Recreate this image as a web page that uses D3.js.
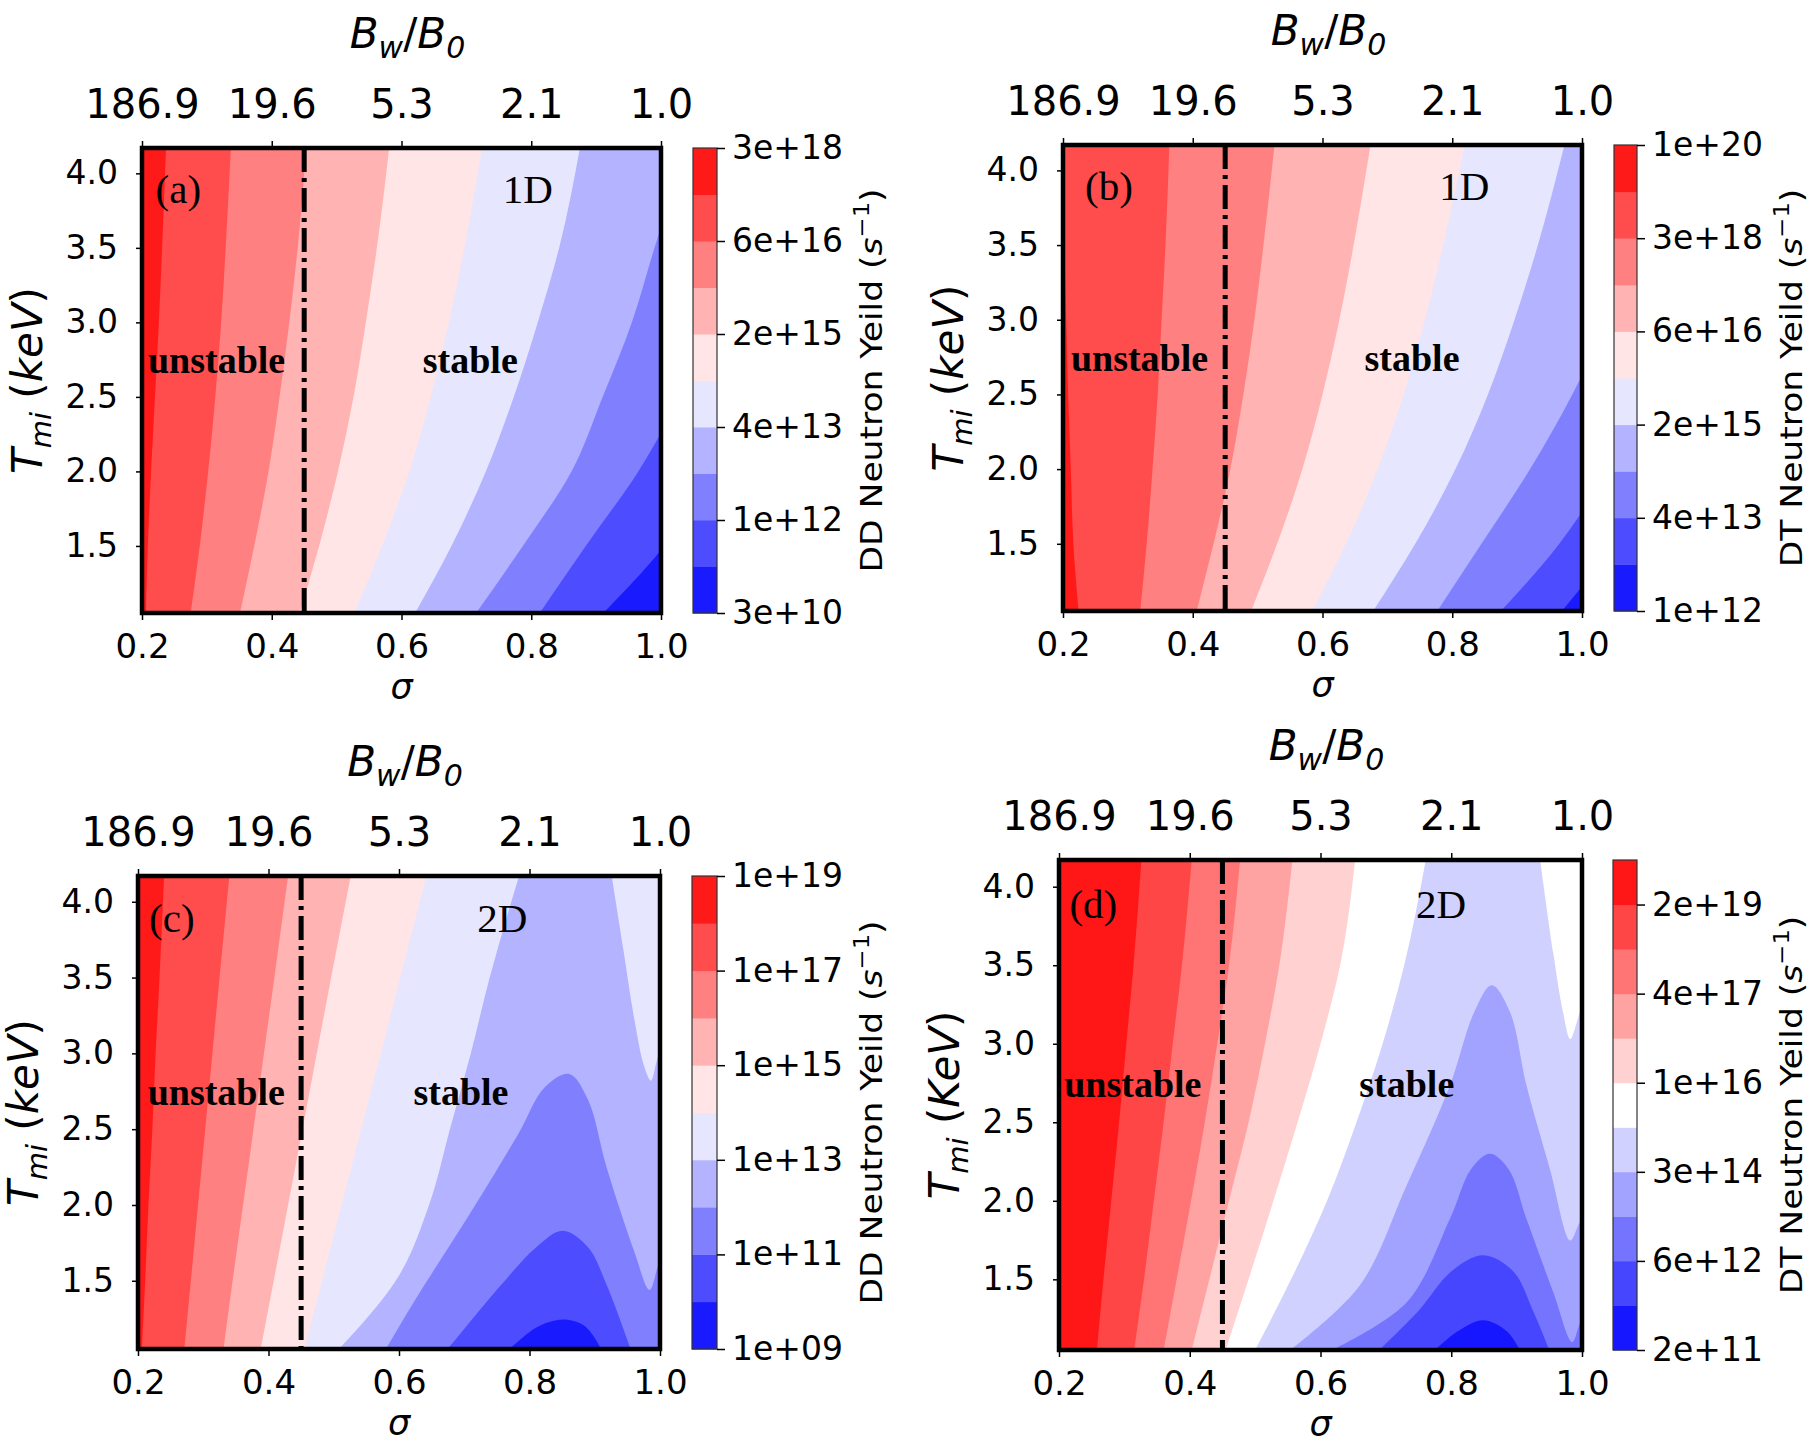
<!DOCTYPE html>
<html>
<head>
<meta charset="utf-8">
<script src="https://cdn.jsdelivr.net/npm/d3@7"></script>
<style>
  body { margin: 0; background: #fff; }
  svg text { font-family: "DejaVu Sans"; fill: #000; }
  svg text.serif { font-family: "Liberation Serif", "Times New Roman", serif; }
</style>
</head>
<body>
<svg id="fig" width="1820" height="1445"></svg>
<script>
// axes shared by all four panels
const sigmaDomain = [0.2, 1.0];
const tDomain = [1.05, 4.17];
const sigmaTicks = [0.2, 0.4, 0.6, 0.8, 1.0];
const ratioLabels = ["186.9", "19.6", "5.3", "2.1", "1.0"];
const tTicks = [1.5, 2.0, 2.5, 3.0, 3.5, 4.0];
const sigmaCritical = 0.45;

// contour boundaries: sigma of each level line at these T rows
const tRows = [1.05, 1.5, 2.0, 2.5, 3.0, 3.5, 4.17];

// (a) DD 1D, level lines 1..9
const aEdges = [
  [0.911, 1.005, 1.08, 1.14, 1.2, 1.25, 1.3],
  [0.813, 0.884, 0.965, 1.03, 1.09, 1.14, 1.2],
  [0.715, 0.787, 0.862, 0.91, 0.955, 0.99, 1.04],
  [0.621, 0.677, 0.73, 0.773, 0.81, 0.843, 0.875],
  [0.527, 0.57, 0.612, 0.645, 0.673, 0.697, 0.724],
  [0.443, 0.473, 0.502, 0.526, 0.545, 0.562, 0.581],
  [0.351, 0.373, 0.395, 0.412, 0.427, 0.44, 0.453],
  [0.275, 0.289, 0.302, 0.313, 0.322, 0.329, 0.337],
  [0.206, 0.209, 0.214, 0.22, 0.226, 0.231, 0.237]
];

// (b) DT 1D, level lines 1..9
const bEdges = [
  [0.969, 1.05, 1.12, 1.18, 1.23, 1.28, 1.33],
  [0.875, 0.965, 1.04, 1.09, 1.14, 1.19, 1.25],
  [0.777, 0.845, 0.92, 0.985, 1.04, 1.09, 1.15],
  [0.678, 0.743, 0.805, 0.855, 0.896, 0.932, 0.973],
  [0.584, 0.636, 0.685, 0.725, 0.758, 0.786, 0.819],
  [0.49, 0.53, 0.569, 0.6, 0.626, 0.648, 0.674],
  [0.406, 0.432, 0.458, 0.478, 0.495, 0.509, 0.526],
  [0.319, 0.329, 0.338, 0.346, 0.352, 0.358, 0.364],
  [0.224, 0.216, 0.212, 0.208, 0.205, 0.202, 0.198]
];

// (c) DD 2D, level lines 4..9 on the left, the rest as [sigma, T] outlines
const cEdges = [
  [0.508, 0.595, 0.646, 0.678, 0.71, 0.739, 0.784],
  [0.455, 0.482, 0.512, 0.542, 0.572, 0.602, 0.642],
  [0.388, 0.408, 0.43, 0.452, 0.474, 0.496, 0.526],
  [0.331, 0.345, 0.361, 0.377, 0.393, 0.409, 0.43],
  [0.271, 0.281, 0.292, 0.303, 0.314, 0.325, 0.34],
  [0.206, 0.211, 0.216, 0.222, 0.227, 0.233, 0.24]
];
const cTopRight = [[0.926, 4.17], [0.944, 3.68], [0.96, 3.24], [0.976, 2.91], [0.986, 2.82], [0.995, 2.95], [1.01, 3.15]];
const cHump3 = [[0.58, 1.05], [0.627, 1.39], [0.705, 1.917], [0.783, 2.47], [0.823, 2.775], [0.861, 2.864], [0.89, 2.69], [0.918, 2.25], [0.96, 1.7], [0.984, 1.44], [0.997, 1.6], [1.01, 1.75]];
const cHump2 = [[0.675, 1.05], [0.757, 1.475], [0.81, 1.72], [0.851, 1.83], [0.89, 1.72], [0.918, 1.475], [0.955, 1.05]];
const cHump1 = [[0.77, 1.05], [0.81, 1.19], [0.851, 1.244], [0.885, 1.2], [0.91, 1.05]];

// (d) DT 2D, level lines 5..10 on the left
const dEdges = [
  [0.5, 0.555, 0.61, 0.655, 0.695, 0.728, 0.761],
  [0.455, 0.49, 0.528, 0.565, 0.6, 0.63, 0.653],
  [0.403, 0.43, 0.46, 0.49, 0.515, 0.537, 0.557],
  [0.36, 0.38, 0.402, 0.423, 0.442, 0.46, 0.477],
  [0.315, 0.33, 0.345, 0.36, 0.374, 0.388, 0.403],
  [0.258, 0.268, 0.28, 0.292, 0.303, 0.314, 0.326]
];
const dTopRight = [[0.936, 4.17], [0.956, 3.58], [0.971, 3.2], [0.982, 3.03], [0.993, 3.15], [1.01, 3.4]];
const dHump4 = [[0.554, 1.05], [0.66, 1.46], [0.732, 2.1], [0.798, 2.735], [0.835, 3.2], [0.862, 3.372], [0.89, 3.2], [0.915, 2.735], [0.951, 2.2], [0.982, 1.747], [0.995, 1.85], [1.01, 1.98]];
const dHump3 = [[0.618, 1.05], [0.732, 1.354], [0.798, 1.885], [0.83, 2.2], [0.859, 2.3], [0.888, 2.2], [0.915, 1.885], [0.956, 1.417], [0.985, 1.1], [0.995, 1.2], [1.01, 1.35]];
const dHump2 = [[0.69, 1.05], [0.75, 1.3], [0.8, 1.55], [0.849, 1.653], [0.895, 1.55], [0.925, 1.3], [0.95, 1.05]];
const dHump1 = [[0.775, 1.05], [0.81, 1.17], [0.849, 1.24], [0.885, 1.17], [0.905, 1.05]];

// colour bar tick labels (at every second level)
const cbTickLevels = [0, 2, 4, 6, 8, 10];
const aCbLabels = ["3e+10", "1e+12", "4e+13", "2e+15", "6e+16", "3e+18"];
const bCbLabels = ["1e+12", "4e+13", "2e+15", "6e+16", "3e+18", "1e+20"];
const cCbLabels = ["1e+09", "1e+11", "1e+13", "1e+15", "1e+17", "1e+19"];
const dCbLabels = ["2e+11", "6e+12", "3e+14", "1e+16", "4e+17", "2e+19"];

// layout (pixels) per panel
const panels = [
  { id: "a", x0: 142, x1: 661, y0: 148, y1: 613, cbx: 693, cbw: 24, nBands: 10, base: 0, first: 1,
    edges: aEdges, pieces: [], cb: aCbLabels, beam: "DD", unit: "keV", tag: "(a)", dim: "1D",
    tagS: 0.221, dimS: 0.756, unS: 0.315, stS: 0.706 },
  { id: "b", x0: 1063, x1: 1582, y0: 145, y1: 611, cbx: 1614, cbw: 23, nBands: 10, base: 0, first: 1,
    edges: bEdges, pieces: [], cb: bCbLabels, beam: "DT", unit: "keV", tag: "(b)", dim: "1D",
    tagS: 0.234, dimS: 0.78, unS: 0.318, stS: 0.738 },
  { id: "c", x0: 138, x1: 660, y0: 876, y1: 1349, cbx: 692, cbw: 25, nBands: 10, base: 3, first: 4,
    edges: cEdges,
    pieces: [{ pts: cTopRight, band: 4, corner: "tr" }, { pts: cHump3, band: 2, corner: "br" },
             { pts: cHump2, band: 1 }, { pts: cHump1, band: 0 }],
    cb: cCbLabels, beam: "DD", unit: "keV", tag: "(c)", dim: "2D",
    tagS: 0.217, dimS: 0.72, unS: 0.32, stS: 0.695 },
  { id: "d", x0: 1059, x1: 1582, y0: 860, y1: 1350, cbx: 1613, cbw: 24, nBands: 11, base: 4, first: 5,
    edges: dEdges,
    pieces: [{ pts: dTopRight, band: 5, corner: "tr" }, { pts: dHump4, band: 3, corner: "br" },
             { pts: dHump3, band: 2, corner: "br" }, { pts: dHump2, band: 1 }, { pts: dHump1, band: 0 }],
    cb: dCbLabels, beam: "DT", unit: "KeV", tag: "(d)", dim: "2D",
    tagS: 0.216, dimS: 0.746, unS: 0.313, stS: 0.732 }
];

// matplotlib bwr colormap
function bwr(t) {
  const c = t < 0.5 ? [2 * t, 2 * t, 1] : [1, 2 - 2 * t, 2 - 2 * t];
  return d3.rgb(c[0] * 255, c[1] * 255, c[2] * 255).formatHex();
}

const svg = d3.select("#fig");
const defs = svg.append("defs");

function styleAxis(g, size) {
  g.attr("font-size", size);
  g.select(".domain").remove();
  g.selectAll(".tick line").attr("stroke", "#000").attr("stroke-width", 1.5);
  g.selectAll(".tick text").attr("fill", "#000");
}

function drawPanel(p) {
  const x = d3.scaleLinear().domain(sigmaDomain).range([p.x0, p.x1]);
  const y = d3.scaleLinear().domain(tDomain).range([p.y1, p.y0]);
  const color = i => bwr((i + 0.5) / p.nBands);
  const g = svg.append("g");

  defs.append("clipPath").attr("id", "clip-" + p.id)
    .append("rect").attr("x", p.x0).attr("y", p.y0)
    .attr("width", p.x1 - p.x0).attr("height", p.y1 - p.y0);

  const field = g.append("g").attr("clip-path", "url(#clip-" + p.id + ")");
  field.append("rect").attr("x", p.x0).attr("y", p.y0)
    .attr("width", p.x1 - p.x0).attr("height", p.y1 - p.y0)
    .attr("fill", color(p.base));

  // filled region left of each level line (higher yield side)
  const area = d3.area()
    .curve(d3.curveMonotoneY)
    .y((d, i) => y(tRows[i]))
    .x0(p.x0 - 20)
    .x1(d => x(d));
  p.edges.forEach((e, j) => {
    field.append("path").datum(e).attr("d", area).attr("fill", color(p.first + j));
  });

  // closed outlines (humps, notches)
  const line = d3.line().x(d => x(d[0])).y(d => y(d[1])).curve(d3.curveCatmullRom.alpha(0.5));
  const corners = {
    tr: [p.x1 + 30, p.y0 - 30],
    br: [p.x1 + 30, p.y1 + 30]
  };
  p.pieces.forEach(pc => {
    let d = line(pc.pts);
    if (pc.corner) d += "L" + corners[pc.corner].join(",");
    field.append("path").attr("d", d + "Z").attr("fill", color(pc.band));
  });

  // stability boundary
  field.append("line")
    .attr("x1", x(sigmaCritical)).attr("x2", x(sigmaCritical))
    .attr("y1", p.y0).attr("y2", p.y1)
    .attr("stroke", "#000").attr("stroke-width", 5)
    .attr("stroke-dasharray", "24,6,4,6");

  // frame
  g.append("rect").attr("x", p.x0).attr("y", p.y0)
    .attr("width", p.x1 - p.x0).attr("height", p.y1 - p.y0)
    .attr("fill", "none").attr("stroke", "#000").attr("stroke-width", 4.5);

  // axes
  g.append("g").attr("transform", `translate(0,${p.y1})`)
    .call(d3.axisBottom(x).tickValues(sigmaTicks).tickFormat(d3.format(".1f")).tickSize(7).tickPadding(14))
    .call(a => styleAxis(a, 34));
  g.append("g").attr("transform", `translate(0,${p.y0})`)
    .call(d3.axisTop(x).tickValues(sigmaTicks).tickFormat((d, i) => ratioLabels[i]).tickSize(7).tickPadding(23))
    .call(a => styleAxis(a, 40));
  g.append("g").attr("transform", `translate(${p.x0},0)`)
    .call(d3.axisLeft(y).tickValues(tTicks).tickFormat(d3.format(".1f")).tickSize(6).tickPadding(18))
    .call(a => styleAxis(a, 33));

  const cx = (p.x0 + p.x1) / 2, cy = (p.y0 + p.y1) / 2;

  // axis titles
  const top = g.append("text").attr("x", cx + 6).attr("y", p.y0 - 100)
    .attr("text-anchor", "middle").attr("font-size", 42).attr("font-style", "italic");
  top.append("tspan").text("B");
  top.append("tspan").attr("font-size", 30).attr("dy", 10).text("w");
  top.append("tspan").attr("dy", -10).attr("font-style", "normal").text("/");
  top.append("tspan").text("B");
  top.append("tspan").attr("font-size", 30).attr("dy", 10).text("0");

  g.append("text").attr("x", cx).attr("y", p.y1 + 86)
    .attr("text-anchor", "middle").attr("font-size", 35).attr("font-style", "italic").text("σ");

  const yl = g.append("text")
    .attr("transform", `translate(${p.x0 - 100},${cy}) rotate(-90)`)
    .attr("text-anchor", "middle").attr("font-size", 42);
  yl.append("tspan").attr("font-style", "italic").text("T");
  yl.append("tspan").attr("font-style", "italic").attr("font-size", 29).attr("dy", 9).text("mi");
  yl.append("tspan").attr("dy", -9).text(" (");
  yl.append("tspan").attr("font-style", "italic").text(p.unit);
  yl.append("tspan").text(")");

  // in-plot annotations (Times-like serif)
  g.append("text").attr("class", "serif").attr("x", x(p.tagS)).attr("y", y(3.8))
    .attr("font-size", 41).text(p.tag);
  g.append("text").attr("class", "serif").attr("x", x(p.dimS)).attr("y", y(3.8))
    .attr("font-size", 41).text(p.dim);
  g.append("text").attr("class", "serif").attr("x", x(p.unS)).attr("y", y(2.66)).attr("text-anchor", "middle")
    .attr("font-size", 38).attr("font-weight", "bold").text("unstable");
  g.append("text").attr("class", "serif").attr("x", x(p.stS)).attr("y", y(2.66)).attr("text-anchor", "middle")
    .attr("font-size", 38).attr("font-weight", "bold").text("stable");

  // colour bar
  const cb = d3.scaleLinear().domain([0, p.nBands]).range([p.y1, p.y0]);
  const cbg = g.append("g");
  cbg.selectAll("rect.band").data(d3.range(p.nBands)).join("rect")
    .attr("class", "band")
    .attr("x", p.cbx).attr("width", p.cbw)
    .attr("y", d => cb(d + 1)).attr("height", d => cb(d) - cb(d + 1) + 0.5)
    .attr("fill", d => color(d));
  cbg.append("rect").attr("x", p.cbx).attr("y", p.y0)
    .attr("width", p.cbw).attr("height", p.y1 - p.y0)
    .attr("fill", "none").attr("stroke", "#333").attr("stroke-width", 1.2);
  cbg.append("g").attr("transform", `translate(${p.cbx + p.cbw},0)`)
    .call(d3.axisRight(cb).tickValues(cbTickLevels).tickFormat((d, i) => p.cb[i]).tickSize(8).tickPadding(7))
    .call(a => styleAxis(a, 33));

  // colour bar title: long and narrow as in the original
  const cl = g.append("text")
    .attr("transform", `translate(${p.cbx + p.cbw + 165},${cy}) rotate(-90) scale(1.15,1)`)
    .attr("text-anchor", "middle").attr("font-size", 30);
  cl.append("tspan").text(p.beam + " Neutron Yeild (");
  cl.append("tspan").attr("font-style", "italic").text("s");
  cl.append("tspan").attr("font-size", 21).attr("dy", -13).text("−1");
  cl.append("tspan").attr("dy", 13).text(")");
}

panels.forEach(drawPanel);
</script>
</body>
</html>
